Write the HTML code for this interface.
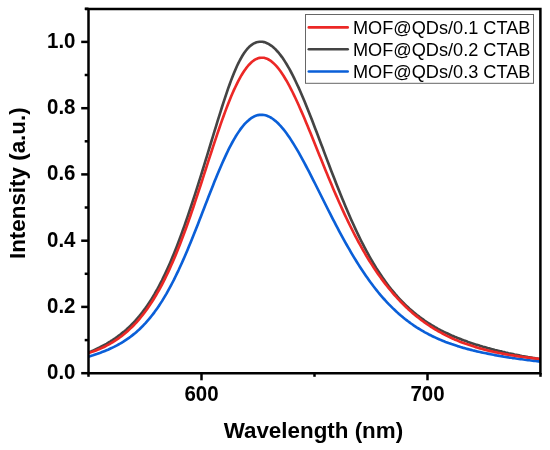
<!DOCTYPE html>
<html><head><meta charset="utf-8"><style>
html,body{margin:0;padding:0;background:#fff;}
body{width:550px;height:450px;overflow:hidden;}
svg{display:block;}
.tl text{stroke:none;font-family:"Liberation Sans",Arial,sans-serif;font-weight:bold;font-size:20.5px;fill:#000;}
.lab{font-family:"Liberation Sans",Arial,sans-serif;font-weight:bold;font-size:22.4px;fill:#000;}
.leg{font-family:"Liberation Sans",Arial,sans-serif;font-size:18.15px;fill:#000;}
</style></head><body>
<svg width="550" height="450" viewBox="0 0 550 450">
<rect width="550" height="450" fill="#fff"/>
<g fill="none" stroke-width="2.65" stroke-linejoin="round" stroke-linecap="butt">
<polyline points="88.5,352.6 90.0,351.9 91.5,351.3 93.0,350.6 94.5,349.9 96.0,349.2 97.5,348.5 99.0,347.8 100.5,347.0 102.0,346.2 103.5,345.4 105.0,344.6 106.5,343.8 108.0,342.9 109.5,342.0 111.0,341.0 112.5,340.1 114.0,339.1 115.5,338.1 117.0,337.0 118.5,335.9 120.0,334.8 121.5,333.6 123.0,332.4 124.5,331.2 126.0,329.9 127.5,328.5 129.0,327.1 130.5,325.7 132.0,324.2 133.5,322.7 135.0,321.1 136.5,319.4 138.0,317.7 139.5,315.9 141.0,314.0 142.5,312.1 144.0,310.1 145.5,308.1 147.0,306.0 148.5,303.8 150.0,301.5 151.5,299.1 153.0,296.7 154.5,294.2 156.0,291.5 157.5,288.9 159.0,286.1 160.5,283.2 162.0,280.3 163.5,277.2 165.0,274.1 166.5,270.9 168.0,267.6 169.5,264.2 171.0,260.7 172.5,257.1 174.0,253.5 175.5,249.7 177.0,245.9 178.5,242.0 180.0,238.0 181.5,233.9 183.0,229.8 184.5,225.6 186.0,221.3 187.5,216.9 189.0,212.5 190.5,208.0 192.0,203.5 193.5,198.9 195.0,194.3 196.5,189.6 198.0,184.9 199.5,180.1 201.0,175.3 202.5,170.5 204.0,165.6 205.5,160.7 207.0,155.8 208.5,150.9 210.0,146.0 211.5,141.0 213.0,136.1 214.5,131.2 216.0,126.3 217.5,121.4 219.0,116.6 220.5,111.8 222.0,107.0 223.5,102.4 225.0,97.8 226.5,93.3 228.0,88.9 229.5,84.7 231.0,80.6 232.5,76.7 234.0,73.0 235.5,69.4 237.0,66.0 238.5,62.9 240.0,60.0 241.5,57.3 243.0,54.8 244.5,52.5 246.0,50.5 247.5,48.7 249.0,47.1 250.5,45.8 252.0,44.6 253.5,43.7 255.0,42.9 256.5,42.3 258.0,42.0 259.5,41.7 261.0,41.7 262.5,41.8 264.0,42.1 265.5,42.6 267.0,43.2 268.5,43.9 270.0,44.8 271.5,45.8 273.0,47.0 274.5,48.4 276.0,49.8 277.5,51.5 279.0,53.2 280.5,55.1 282.0,57.1 283.5,59.3 285.0,61.6 286.5,64.0 288.0,66.6 289.5,69.2 291.0,72.0 292.5,74.9 294.0,77.9 295.5,81.0 297.0,84.2 298.5,87.4 300.0,90.8 301.5,94.2 303.0,97.8 304.5,101.3 306.0,105.0 307.5,108.7 309.0,112.4 310.5,116.2 312.0,120.1 313.5,124.0 315.0,127.9 316.5,131.8 318.0,135.7 319.5,139.7 321.0,143.7 322.5,147.6 324.0,151.6 325.5,155.6 327.0,159.6 328.5,163.5 330.0,167.5 331.5,171.4 333.0,175.3 334.5,179.1 336.0,183.0 337.5,186.8 339.0,190.6 340.5,194.3 342.0,198.0 343.5,201.6 345.0,205.2 346.5,208.8 348.0,212.3 349.5,215.8 351.0,219.2 352.5,222.5 354.0,225.8 355.5,229.1 357.0,232.3 358.5,235.4 360.0,238.5 361.5,241.5 363.0,244.4 364.5,247.3 366.0,250.2 367.5,252.9 369.0,255.7 370.5,258.3 372.0,260.9 373.5,263.5 375.0,265.9 376.5,268.4 378.0,270.7 379.5,273.0 381.0,275.3 382.5,277.5 384.0,279.6 385.5,281.7 387.0,283.8 388.5,285.8 390.0,287.7 391.5,289.6 393.0,291.4 394.5,293.2 396.0,295.0 397.5,296.7 399.0,298.3 400.5,299.9 402.0,301.5 403.5,303.0 405.0,304.5 406.5,305.9 408.0,307.3 409.5,308.7 411.0,310.0 412.5,311.3 414.0,312.6 415.5,313.8 417.0,315.0 418.5,316.1 420.0,317.3 421.5,318.4 423.0,319.4 424.5,320.5 426.0,321.5 427.5,322.5 429.0,323.5 430.5,324.4 432.0,325.3 433.5,326.2 435.0,327.1 436.5,327.9 438.0,328.8 439.5,329.6 441.0,330.4 442.5,331.1 444.0,331.9 445.5,332.6 447.0,333.3 448.5,334.0 450.0,334.7 451.5,335.4 453.0,336.0 454.5,336.7 456.0,337.3 457.5,337.9 459.0,338.5 460.5,339.1 462.0,339.7 463.5,340.3 465.0,340.8 466.5,341.3 468.0,341.9 469.5,342.4 471.0,342.9 472.5,343.4 474.0,343.9 475.5,344.4 477.0,344.9 478.5,345.3 480.0,345.8 481.5,346.2 483.0,346.7 484.5,347.1 486.0,347.5 487.5,348.0 489.0,348.4 490.5,348.8 492.0,349.2 493.5,349.6 495.0,350.0 496.5,350.3 498.0,350.7 499.5,351.1 501.0,351.4 502.5,351.8 504.0,352.1 505.5,352.5 507.0,352.8 508.5,353.2 510.0,353.5 511.5,353.8 513.0,354.1 514.5,354.5 516.0,354.8 517.5,355.1 519.0,355.4 520.5,355.7 522.0,356.0 523.5,356.2 525.0,356.5 526.5,356.8 528.0,357.1 529.5,357.3 531.0,357.6 532.5,357.9 534.0,358.1 535.5,358.4 537.0,358.6 538.5,358.9 540.0,359.1" stroke="#444444"/>
<polyline points="88.5,356.6 90.0,356.2 91.5,355.7 93.0,355.3 94.5,354.8 96.0,354.3 97.5,353.8 99.0,353.2 100.5,352.7 102.0,352.1 103.5,351.5 105.0,350.9 106.5,350.3 108.0,349.7 109.5,349.0 111.0,348.3 112.5,347.6 114.0,346.9 115.5,346.1 117.0,345.3 118.5,344.5 120.0,343.7 121.5,342.8 123.0,341.9 124.5,340.9 126.0,339.9 127.5,338.9 129.0,337.9 130.5,336.8 132.0,335.6 133.5,334.4 135.0,333.2 136.5,331.9 138.0,330.6 139.5,329.2 141.0,327.7 142.5,326.3 144.0,324.7 145.5,323.1 147.0,321.4 148.5,319.7 150.0,317.9 151.5,316.0 153.0,314.1 154.5,312.1 156.0,310.0 157.5,307.9 159.0,305.7 160.5,303.4 162.0,301.1 163.5,298.6 165.0,296.1 166.5,293.6 168.0,290.9 169.5,288.2 171.0,285.4 172.5,282.5 174.0,279.6 175.5,276.5 177.0,273.4 178.5,270.3 180.0,267.0 181.5,263.7 183.0,260.4 184.5,257.0 186.0,253.5 187.5,249.9 189.0,246.3 190.5,242.7 192.0,239.0 193.5,235.3 195.0,231.5 196.5,227.7 198.0,223.9 199.5,220.1 201.0,216.2 202.5,212.3 204.0,208.4 205.5,204.6 207.0,200.7 208.5,196.8 210.0,193.0 211.5,189.2 213.0,185.4 214.5,181.6 216.0,177.9 217.5,174.3 219.0,170.7 220.5,167.2 222.0,163.7 223.5,160.4 225.0,157.1 226.5,153.9 228.0,150.7 229.5,147.7 231.0,144.8 232.5,142.0 234.0,139.4 235.5,136.8 237.0,134.4 238.5,132.1 240.0,129.9 241.5,127.9 243.0,126.0 244.5,124.2 246.0,122.6 247.5,121.2 249.0,119.9 250.5,118.7 252.0,117.7 253.5,116.8 255.0,116.1 256.5,115.6 258.0,115.1 259.5,114.9 261.0,114.8 262.5,114.8 264.0,115.0 265.5,115.3 267.0,115.8 268.5,116.4 270.0,117.1 271.5,118.0 273.0,119.0 274.5,120.2 276.0,121.4 277.5,122.8 279.0,124.3 280.5,125.9 282.0,127.6 283.5,129.4 285.0,131.3 286.5,133.3 288.0,135.4 289.5,137.6 291.0,139.9 292.5,142.2 294.0,144.6 295.5,147.1 297.0,149.6 298.5,152.2 300.0,154.9 301.5,157.6 303.0,160.4 304.5,163.2 306.0,166.0 307.5,168.8 309.0,171.7 310.5,174.7 312.0,177.6 313.5,180.6 315.0,183.5 316.5,186.5 318.0,189.5 319.5,192.5 321.0,195.5 322.5,198.5 324.0,201.5 325.5,204.5 327.0,207.5 328.5,210.5 330.0,213.4 331.5,216.4 333.0,219.3 334.5,222.2 336.0,225.1 337.5,227.9 339.0,230.8 340.5,233.6 342.0,236.3 343.5,239.1 345.0,241.8 346.5,244.5 348.0,247.1 349.5,249.7 351.0,252.3 352.5,254.9 354.0,257.4 355.5,259.8 357.0,262.2 358.5,264.6 360.0,267.0 361.5,269.3 363.0,271.5 364.5,273.8 366.0,276.0 367.5,278.1 369.0,280.2 370.5,282.3 372.0,284.3 373.5,286.3 375.0,288.2 376.5,290.1 378.0,292.0 379.5,293.8 381.0,295.6 382.5,297.3 384.0,299.0 385.5,300.7 387.0,302.3 388.5,303.9 390.0,305.4 391.5,306.9 393.0,308.4 394.5,309.8 396.0,311.2 397.5,312.6 399.0,314.0 400.5,315.3 402.0,316.5 403.5,317.8 405.0,319.0 406.5,320.1 408.0,321.3 409.5,322.4 411.0,323.5 412.5,324.5 414.0,325.6 415.5,326.6 417.0,327.6 418.5,328.5 420.0,329.4 421.5,330.3 423.0,331.2 424.5,332.1 426.0,332.9 427.5,333.7 429.0,334.5 430.5,335.2 432.0,336.0 433.5,336.7 435.0,337.4 436.5,338.1 438.0,338.8 439.5,339.4 441.0,340.1 442.5,340.7 444.0,341.3 445.5,341.9 447.0,342.4 448.5,343.0 450.0,343.5 451.5,344.1 453.0,344.6 454.5,345.1 456.0,345.6 457.5,346.1 459.0,346.5 460.5,347.0 462.0,347.4 463.5,347.9 465.0,348.3 466.5,348.7 468.0,349.1 469.5,349.5 471.0,349.9 472.5,350.3 474.0,350.6 475.5,351.0 477.0,351.4 478.5,351.7 480.0,352.0 481.5,352.4 483.0,352.7 484.5,353.0 486.0,353.3 487.5,353.6 489.0,353.9 490.5,354.2 492.0,354.5 493.5,354.8 495.0,355.1 496.5,355.4 498.0,355.6 499.5,355.9 501.0,356.1 502.5,356.4 504.0,356.7 505.5,356.9 507.0,357.1 508.5,357.4 510.0,357.6 511.5,357.8 513.0,358.1 514.5,358.3 516.0,358.5 517.5,358.7 519.0,358.9 520.5,359.1 522.0,359.3 523.5,359.5 525.0,359.7 526.5,359.9 528.0,360.1 529.5,360.3 531.0,360.5 532.5,360.7 534.0,360.9 535.5,361.0 537.0,361.2 538.5,361.4 540.0,361.6" stroke="#0a5fd8"/>
<polyline points="88.5,353.1 90.0,352.6 91.5,352.1 93.0,351.6 94.5,351.0 96.0,350.4 97.5,349.8 99.0,349.2 100.5,348.6 102.0,347.9 103.5,347.2 105.0,346.5 106.5,345.7 108.0,344.9 109.5,344.1 111.0,343.2 112.5,342.3 114.0,341.4 115.5,340.4 117.0,339.4 118.5,338.4 120.0,337.3 121.5,336.2 123.0,335.0 124.5,333.8 126.0,332.5 127.5,331.2 129.0,329.8 130.5,328.4 132.0,327.0 133.5,325.5 135.0,323.9 136.5,322.3 138.0,320.6 139.5,318.8 141.0,317.0 142.5,315.2 144.0,313.2 145.5,311.2 147.0,309.2 148.5,307.0 150.0,304.8 151.5,302.6 153.0,300.2 154.5,297.8 156.0,295.3 157.5,292.7 159.0,290.0 160.5,287.3 162.0,284.5 163.5,281.6 165.0,278.6 166.5,275.5 168.0,272.4 169.5,269.1 171.0,265.8 172.5,262.4 174.0,258.9 175.5,255.4 177.0,251.7 178.5,248.0 180.0,244.2 181.5,240.3 183.0,236.3 184.5,232.3 186.0,228.2 187.5,224.0 189.0,219.8 190.5,215.5 192.0,211.1 193.5,206.7 195.0,202.2 196.5,197.7 198.0,193.2 199.5,188.6 201.0,184.0 202.5,179.3 204.0,174.7 205.5,170.0 207.0,165.4 208.5,160.7 210.0,156.1 211.5,151.5 213.0,146.9 214.5,142.3 216.0,137.8 217.5,133.4 219.0,129.0 220.5,124.6 222.0,120.4 223.5,116.2 225.0,112.1 226.5,108.1 228.0,104.2 229.5,100.5 231.0,96.8 232.5,93.3 234.0,89.9 235.5,86.7 237.0,83.6 238.5,80.6 240.0,77.8 241.5,75.2 243.0,72.8 244.5,70.5 246.0,68.4 247.5,66.5 249.0,64.7 250.5,63.2 252.0,61.8 253.5,60.7 255.0,59.7 256.5,58.9 258.0,58.3 259.5,57.9 261.0,57.7 262.5,57.7 264.0,57.8 265.5,58.2 267.0,58.7 268.5,59.5 270.0,60.4 271.5,61.4 273.0,62.7 274.5,64.1 276.0,65.7 277.5,67.4 279.0,69.3 280.5,71.3 282.0,73.5 283.5,75.7 285.0,78.2 286.5,80.7 288.0,83.4 289.5,86.2 291.0,89.1 292.5,92.0 294.0,95.1 295.5,98.3 297.0,101.5 298.5,104.8 300.0,108.2 301.5,111.6 303.0,115.1 304.5,118.6 306.0,122.2 307.5,125.8 309.0,129.4 310.5,133.1 312.0,136.8 313.5,140.5 315.0,144.2 316.5,147.9 318.0,151.7 319.5,155.4 321.0,159.1 322.5,162.8 324.0,166.5 325.5,170.2 327.0,173.8 328.5,177.4 330.0,181.0 331.5,184.6 333.0,188.2 334.5,191.7 336.0,195.1 337.5,198.6 339.0,202.0 340.5,205.3 342.0,208.6 343.5,211.9 345.0,215.1 346.5,218.3 348.0,221.4 349.5,224.5 351.0,227.5 352.5,230.5 354.0,233.5 355.5,236.4 357.0,239.2 358.5,242.0 360.0,244.7 361.5,247.4 363.0,250.1 364.5,252.7 366.0,255.2 367.5,257.7 369.0,260.2 370.5,262.6 372.0,264.9 373.5,267.2 375.0,269.5 376.5,271.7 378.0,273.9 379.5,276.0 381.0,278.1 382.5,280.1 384.0,282.1 385.5,284.1 387.0,286.0 388.5,287.9 390.0,289.7 391.5,291.5 393.0,293.3 394.5,295.0 396.0,296.7 397.5,298.3 399.0,299.9 400.5,301.5 402.0,303.0 403.5,304.5 405.0,306.0 406.5,307.5 408.0,308.9 409.5,310.2 411.0,311.6 412.5,312.9 414.0,314.2 415.5,315.4 417.0,316.6 418.5,317.8 420.0,319.0 421.5,320.2 423.0,321.3 424.5,322.4 426.0,323.4 427.5,324.5 429.0,325.5 430.5,326.5 432.0,327.4 433.5,328.4 435.0,329.3 436.5,330.2 438.0,331.0 439.5,331.9 441.0,332.7 442.5,333.5 444.0,334.3 445.5,335.1 447.0,335.9 448.5,336.6 450.0,337.3 451.5,338.0 453.0,338.7 454.5,339.4 456.0,340.0 457.5,340.6 459.0,341.3 460.5,341.9 462.0,342.4 463.5,343.0 465.0,343.6 466.5,344.1 468.0,344.6 469.5,345.1 471.0,345.6 472.5,346.1 474.0,346.6 475.5,347.1 477.0,347.5 478.5,348.0 480.0,348.4 481.5,348.8 483.0,349.2 484.5,349.6 486.0,350.0 487.5,350.4 489.0,350.7 490.5,351.1 492.0,351.4 493.5,351.8 495.0,352.1 496.5,352.4 498.0,352.7 499.5,353.0 501.0,353.3 502.5,353.6 504.0,353.9 505.5,354.2 507.0,354.4 508.5,354.7 510.0,355.0 511.5,355.2 513.0,355.4 514.5,355.7 516.0,355.9 517.5,356.1 519.0,356.4 520.5,356.6 522.0,356.8 523.5,357.0 525.0,357.2 526.5,357.4 528.0,357.6 529.5,357.8 531.0,357.9 532.5,358.1 534.0,358.3 535.5,358.5 537.0,358.6 538.5,358.8 540.0,358.9" stroke="#ec2826"/>
</g>
<g class="tl" stroke="#000" stroke-width="2.5">
<line x1="81.2" y1="373.2" x2="88.5" y2="373.2"/><text transform="translate(75.5,379.0) scale(1,1.045)" text-anchor="end">0.0</text>
<line x1="84.7" y1="340.1" x2="88.5" y2="340.1"/>
<line x1="81.2" y1="306.9" x2="88.5" y2="306.9"/><text transform="translate(75.5,312.7) scale(1,1.045)" text-anchor="end">0.2</text>
<line x1="84.7" y1="273.8" x2="88.5" y2="273.8"/>
<line x1="81.2" y1="240.7" x2="88.5" y2="240.7"/><text transform="translate(75.5,246.5) scale(1,1.045)" text-anchor="end">0.4</text>
<line x1="84.7" y1="207.5" x2="88.5" y2="207.5"/>
<line x1="81.2" y1="174.4" x2="88.5" y2="174.4"/><text transform="translate(75.5,180.2) scale(1,1.045)" text-anchor="end">0.6</text>
<line x1="84.7" y1="141.3" x2="88.5" y2="141.3"/>
<line x1="81.2" y1="108.2" x2="88.5" y2="108.2"/><text transform="translate(75.5,114.0) scale(1,1.045)" text-anchor="end">0.8</text>
<line x1="84.7" y1="75.0" x2="88.5" y2="75.0"/>
<line x1="81.2" y1="41.9" x2="88.5" y2="41.9"/><text transform="translate(75.5,47.7) scale(1,1.045)" text-anchor="end">1.0</text>
<line x1="84.7" y1="8.8" x2="88.5" y2="8.8"/>
<line x1="88.5" y1="373" x2="88.5" y2="376.8"/>
<line x1="201.5" y1="373" x2="201.5" y2="380.3"/><text transform="translate(201.5,401.3) scale(1,1.045)" text-anchor="middle">600</text>
<line x1="314.5" y1="373" x2="314.5" y2="376.8"/>
<line x1="427.5" y1="373" x2="427.5" y2="380.3"/><text transform="translate(427.5,401.3) scale(1,1.045)" text-anchor="middle">700</text>
<line x1="540.5" y1="373" x2="540.5" y2="376.8"/>
</g>
<path d="M85.1 9.1 H540.4 V373.2 H88.5 V9.1" fill="none" stroke="#000" stroke-width="2.5" stroke-linejoin="miter"/>
<rect x="305.5" y="14.5" width="228" height="68.8" fill="#fff" stroke="#666" stroke-width="1"/>
<g stroke-width="2.6" stroke-linecap="round">
<line x1="308.8" y1="27.4" x2="347.7" y2="27.4" stroke="#ec2826"/>
<line x1="308.8" y1="49.3" x2="347.7" y2="49.3" stroke="#444444"/>
<line x1="308.8" y1="71.5" x2="347.7" y2="71.5" stroke="#0a5fd8"/>
</g>
<text class="leg" x="353" y="33.5">MOF@QDs/0.1 CTAB</text>
<text class="leg" x="353" y="55.5">MOF@QDs/0.2 CTAB</text>
<text class="leg" x="353" y="77.5">MOF@QDs/0.3 CTAB</text>
<text class="lab" x="313.4" y="437.7" text-anchor="middle">Wavelength (nm)</text>
<text class="lab" transform="translate(25.3,183.2) rotate(-90)" text-anchor="middle">Intensity (a.u.)</text>
</svg>
</body></html>
